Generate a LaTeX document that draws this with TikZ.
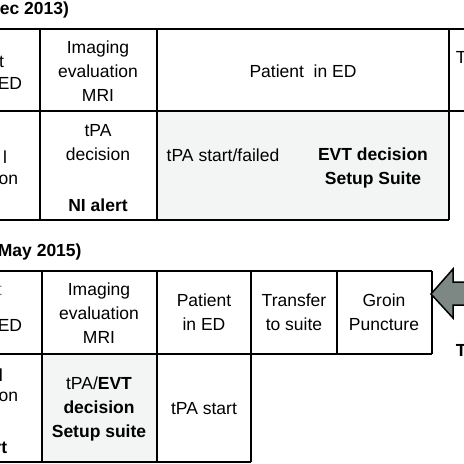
\documentclass[tikz,border=0pt]{standalone}
\usepackage{fontspec}
\setmainfont{Liberation Sans}
\usetikzlibrary{positioning}

\definecolor{cellgray}{HTML}{F3F5F5}
\definecolor{arrowgray}{HTML}{7D8884}

\begin{document}
\begin{tikzpicture}[x=1pt, y=-1pt, line width=1.8pt,
    font=\fontsize{17.5}{24}\selectfont,
    txt/.style={align=center, inner sep=0pt},
    cut/.style={anchor=east, inner sep=0pt}]
    \useasboundingbox (0,0) rectangle (464,464);
    \clip (0,0) rectangle (464,464);

    % Shaded cells
    \fill[cellgray] (157,111) rectangle (449,220);
    \fill[cellgray] (42,354) rectangle (157,462);

    % Titles
    \node[anchor=west, inner sep=0pt, font=\fontsize{17.5}{24}\selectfont\bfseries] (title1) at (-1,10) {ec 2013)};
    \node[anchor=west, inner sep=0pt, font=\fontsize{17.5}{24}\selectfont\bfseries] (title2) at (-3,252) {May 2015)};

    % Table before
    \draw (-5,29) -- (470,29);
    \draw (-5,111) -- (470,111);
    \draw (-5,220) -- (449,220);
    \draw (40,29) -- (40,220);
    \draw (157,29) -- (157,220);
    \draw (449,29) -- (449,220);

    % Table after
    \draw (-5,271) -- (432,271);
    \draw (-5,354) -- (432,354);
    \draw (-5,462) -- (251,462);
    \draw (42,271) -- (42,462);
    \draw (157,271) -- (157,462);
    \draw (251,271) -- (251,462);
    \draw (337,271) -- (337,354);
    \draw (432,271) -- (432,354);

    % Cells before
    \node[cut] (b0a) at (5,62) {t};
    \node[cut] (b0b) at (23,83) {ED};
    \node[cut] (b0c) at (8,157) {l};
    \node[cut] (b0d) at (19,180) {on};
    \node[txt] (bimg) at (98,71.5) {Imaging\\evaluation\\MRI};
    \node[txt] (bed) at (303,71) {Patient\ \ in ED};
    \node[anchor=west, inner sep=0pt] (bnext) at (455,57) {T};
    \node[txt] (bdec) at (98,142.5) {tPA\\decision};
    \node[txt, font=\fontsize{17.5}{24}\selectfont\bfseries] (bni) at (98,205) {NI alert};
    \node[txt] (bstart) at (223,155) {tPA start/failed};
    \node[txt, font=\fontsize{17.5}{24}\selectfont\bfseries] (bevt) at (373,167.5) {EVT decision\\Setup Suite};

    % Cells after
    \node[cut, text=black!50] (a0a) at (3,290) {t};
    \node[cut] (a0b) at (23,325) {ED};
    \node[cut, font=\fontsize{17.5}{24}\selectfont\bfseries] (a0c) at (4,375) {l};
    \node[cut] (a0d) at (19,397) {on};
    \node[cut, font=\fontsize{17.5}{24}\selectfont\bfseries] (a0e) at (8,448) {rt};
    \node[txt] (aimg) at (99,313.5) {Imaging\\evaluation\\MRI};
    \node[txt] (aed) at (204,312.5) {Patient\\in ED};
    \node[txt] (atrans) at (294,312.5) {Transfer\\to suite};
    \node[txt] (agroin) at (384,312.5) {Groin\\Puncture};
    \node[txt] (adec) at (99,409) {tPA/\textbf{EVT}\\\textbf{decision}\\\textbf{Setup suite}};
    \node[txt] (astart) at (204,409) {tPA start};

    % Arrow
    \draw[fill=arrowgray, line width=1.5pt, line join=miter]
        (431,294) -- (453,269) -- (453,282) -- (470,282)
        -- (470,305) -- (453,305) -- (453,318) -- cycle;
    \node[anchor=west, inner sep=0pt, font=\fontsize{17.5}{24}\selectfont\bfseries] (tlabel) at (455,350) {T};
\end{tikzpicture}
\end{document}
